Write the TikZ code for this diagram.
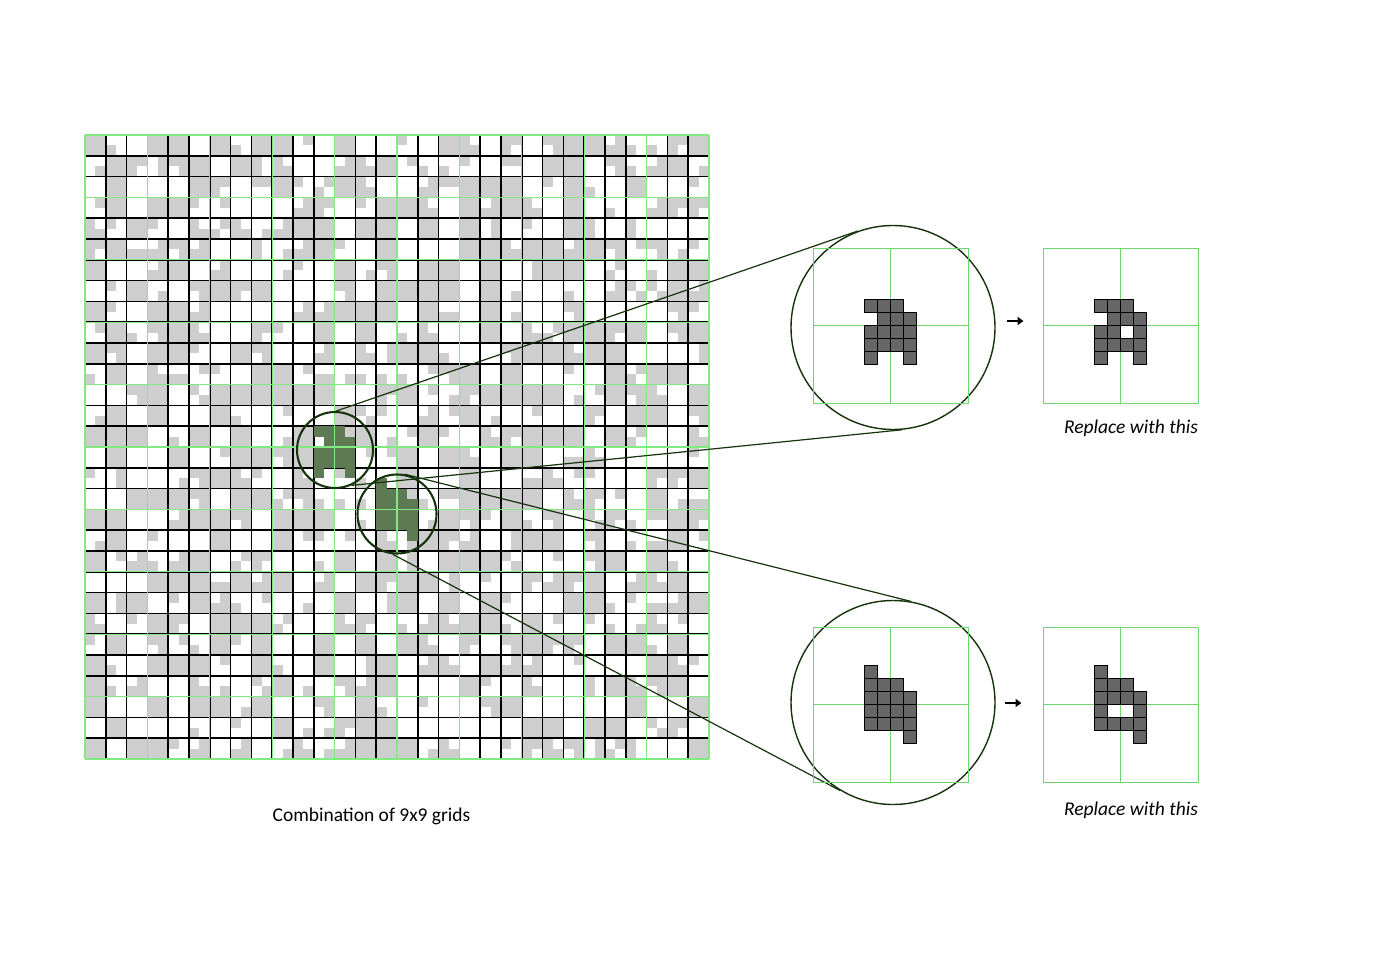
\documentclass[tikz,border=0pt]{standalone}
\usepackage{fontspec}
\setmainfont{Carlito}
\usetikzlibrary{arrows.meta}
\definecolor{cellgray}{RGB}{206,206,206}
\definecolor{gridgreen}{RGB}{130,234,130}
\definecolor{boxgreen}{RGB}{110,214,110}
\definecolor{hlgreen}{RGB}{94,122,82}
\definecolor{ringgreen}{RGB}{22,52,12}
\definecolor{darkcell}{RGB}{102,102,102}
\tikzset{
  blackline/.style={black,line width=1.6pt},
  greenline/.style={gridgreen,line width=1.2pt},
  smallring/.style={circle,draw=ringgreen,line width=2.1pt,inner sep=0pt,minimum size=76pt},
  bigring/.style={circle,draw=ringgreen,line width=1.4pt,inner sep=0pt,minimum size=204pt},
  conn/.style={ringgreen,line width=1.2pt},
  zoombox/.style={draw=boxgreen,line width=0.9pt,inner sep=0pt,minimum size=155pt},
  cross/.style={boxgreen,line width=0.9pt},
  bigcell/.style={fill=darkcell,draw=black,line width=0.8pt},
  hlcell/.style={fill=hlgreen},
  arr/.style={black,line width=1.6pt,-{Triangle[length=6pt,width=8pt]}},
  lbl/.style={font=\fontsize{19.5}{23}\selectfont},
  ilbl/.style={font=\fontsize{19.5}{23}\selectfont\itshape}
}
\begin{document}
\begin{tikzpicture}[x=1pt,y=-1pt]
\useasboundingbox (0,0) rectangle (1380,974);
\fill[white] (0,0) rectangle (1380,974);
% gray texture
\pgfmathsetseed{2718}
\foreach \i in {0,...,29}{
  \foreach \j in {0,...,29}{
    \pgfmathtruncatemacro\base{rnd<0.47}
    \foreach \a/\b in {0/0,1/0,0/1,1/1}{
      \pgfmathtruncatemacro\g{\base ? (rnd<0.88) : (rnd<0.12)}
      \ifnum\g=1
        \fill[cellgray] ({85+(2*\i+\a)*10.4},{135+(2*\j+\b)*10.4}) rectangle ++(10.45,10.45);
      \fi
    }
  }
}
% black grid
\foreach \k in {1,...,29}{
  \draw[blackline] ({85+\k*20.8},135) -- ({85+\k*20.8},759);
  \draw[blackline] (85,{135+\k*20.8}) -- (709,{135+\k*20.8});
}
% highlighted shapes
\foreach \c/\r in {0/0,1/0,2/0,1/1,2/1,3/1,0/2,1/2,2/2,3/2,0/3,1/3,2/3,3/3,0/4,3/4}{
  \fill[hlcell] ({313.8+\c*10.4},{426.2+\r*10.4}) rectangle ++(10.45,10.45);
}
\foreach \c/\r in {0/0,0/1,1/1,2/1,0/2,1/2,2/2,3/2,0/3,1/3,2/3,3/3,0/4,1/4,2/4,3/4,3/5}{
  \fill[hlcell] ({376.2+\c*10.4},{478.2+\r*10.4}) rectangle ++(10.45,10.45);
}
% green grid
\foreach \k in {0,3,...,30}{
  \draw[greenline] ({85+\k*20.8},135) -- ({85+\k*20.8},759);
  \draw[greenline] (85,{135+\k*20.8}) -- (709,{135+\k*20.8});
}
% rings
\node[smallring] (c1) at (335,450) {};
\node[smallring,minimum size=79pt] (c2) at (397,514) {};
\node[bigring] (m1) at (893,327.5) {};
\node[bigring] (m2) at (893,702.5) {};
\draw[conn] (c1.88) -- (m1.110);
\draw[conn] (c1.-65) -- (m1.-85);
\draw[conn] (c2.79) -- (m2.80);
\draw[conn] (c2.-96) -- (m2.-121);
% zoomed boxes
\node[zoombox] (s1) at (890.5,325.5) {};
\draw[cross] (s1.north) -- (s1.south);
\draw[cross] (s1.west) -- (s1.east);
\foreach \c/\r in {0/0,1/0,2/0,1/1,2/1,3/1,0/2,1/2,2/2,3/2,0/3,1/3,2/3,3/3,0/4,3/4}{
  \draw[bigcell] ({864.5+\c*13},{299.5+\r*13}) rectangle ++(13,13);
}
\node[zoombox] (s2) at (890.5,704.5) {};
\draw[cross] (s2.north) -- (s2.south);
\draw[cross] (s2.west) -- (s2.east);
\foreach \c/\r in {0/0,0/1,1/1,2/1,0/2,1/2,2/2,3/2,0/3,1/3,2/3,3/3,0/4,1/4,2/4,3/4,3/5}{
  \draw[bigcell] ({864.5+\c*13},{665.5+\r*13}) rectangle ++(13,13);
}
% replacement boxes
\node[zoombox] (r1) at (1120.5,325.5) {};
\draw[cross] (r1.north) -- (r1.south);
\draw[cross] (r1.west) -- (r1.east);
\foreach \c/\r in {0/0,1/0,2/0,1/1,2/1,3/1,0/2,1/2,3/2,0/3,1/3,2/3,3/3,0/4,3/4}{
  \draw[bigcell] ({1094.5+\c*13},{299.5+\r*13}) rectangle ++(13,13);
}
\node[zoombox] (r2) at (1120.5,704.5) {};
\draw[cross] (r2.north) -- (r2.south);
\draw[cross] (r2.west) -- (r2.east);
\foreach \c/\r in {0/0,0/1,1/1,2/1,0/2,1/2,2/2,3/2,0/3,3/3,0/4,1/4,2/4,3/4,3/5}{
  \draw[bigcell] ({1094.5+\c*13},{665.5+\r*13}) rectangle ++(13,13);
}
% arrows
\coordinate (a1s) at (1006.5,321);
\coordinate (a1e) at (1023.5,321);
\coordinate (a2s) at (1004.5,703);
\coordinate (a2e) at (1021.5,703);
\draw[arr] (a1s) -- (a1e);
\draw[arr] (a2s) -- (a2e);
% labels
\node[lbl] (t0) at (371.5,816) {Combination of 9x9 grids};
\node[ilbl] (t1) at (1131,428) {Replace with this};
\node[ilbl] (t2) at (1131,810) {Replace with this};
\end{tikzpicture}
\end{document}
